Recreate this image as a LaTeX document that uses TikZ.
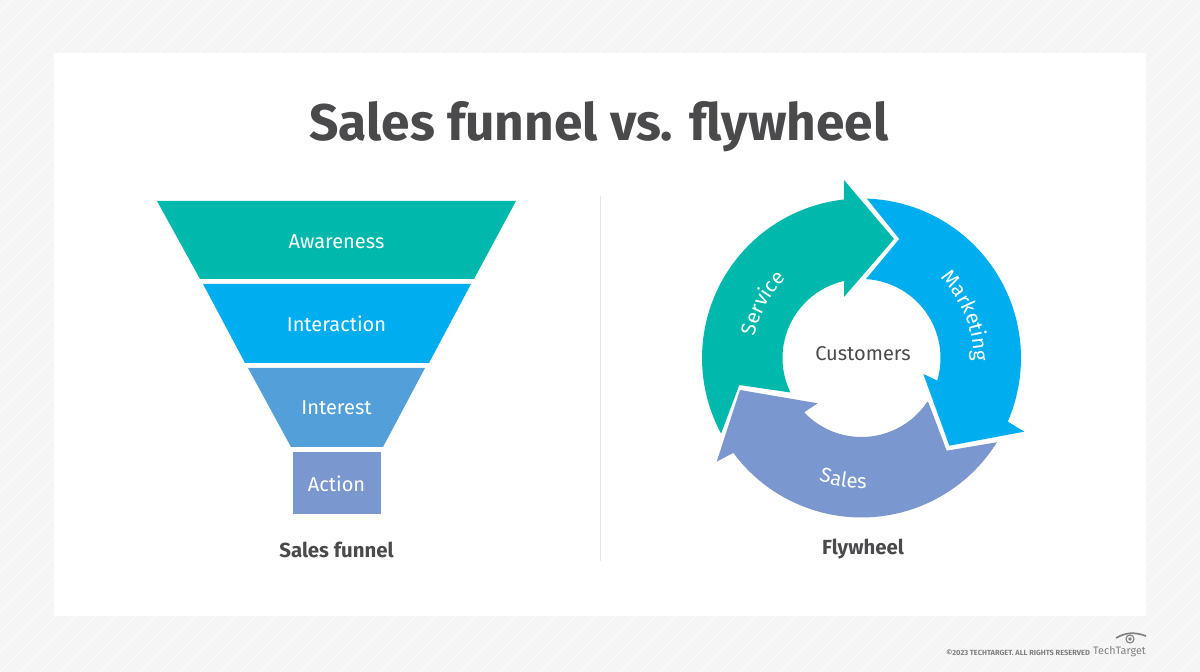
\documentclass[tikz,border=0pt]{standalone}
\usepackage{fontspec}
\setmainfont{Fira Sans}
\usetikzlibrary{decorations.text}

\definecolor{inkgrey}{HTML}{4A4A4C}
\definecolor{teal}{HTML}{00B9AC}
\definecolor{skyblue}{HTML}{00AEEF}
\definecolor{midblue}{HTML}{529FD9}
\definecolor{periwinkle}{HTML}{7A97CF}
\definecolor{paper}{HTML}{F5F5F5}

\tikzset{
  funneltext/.style={text=white, font=\fontsize{28.5}{32}\selectfont},
  caption/.style={text=inkgrey, font=\bfseries\fontsize{29}{34}\selectfont},
  curved/.style={decoration={text along path, text align=center, text={|\fontsize{29}{34}\selectfont\color{white}|#1}}, postaction={decorate}}
}

\begin{document}
\begin{tikzpicture}[x=0.05cm, y=0.05cm]
  \def\router{7.975cm}
  \def\rinner{3.95cm}
  \fill [paper] (0, 0) rectangle (1200, 672);
  \useasboundingbox (0, 0) rectangle (1200, 672);
  \begin{scope}
    \clip (0, 0) rectangle (1200, 672);
    \foreach \i in {0,...,94} {
      \draw [white, line width=0.9pt] (12+20*\i, 672) -- (12+20*\i-672, 0);
    }
  \end{scope}
  \fill [white] (54, 56) rectangle (1146, 619);

  \node (title) [text=inkgrey, font=\bfseries\fontsize{73.2}{82}\selectfont] at (599, 545.5) {Sales funnel vs. flywheel};

  % funnel
  \fill [teal] (157, 471) -- (516, 471) -- (474, 393) -- (200, 393) -- cycle;
  \fill [skyblue] (203, 388) -- (471, 388) -- (429, 309) -- (245, 309) -- cycle;
  \fill [midblue] (248, 304) -- (425, 304) -- (383, 225) -- (291, 225) -- cycle;
  \fill [periwinkle] (293, 220) rectangle (381, 158);
  \node (awareness) [funneltext] at (336.5, 430.5) {Awareness};
  \node (interaction) [funneltext] at (336.5, 348.5) {Interaction};
  \node (interest) [funneltext] at (336.5, 264) {Interest};
  \node (action) [funneltext] at (336.5, 188.5) {Action};
  \node (funnelcaption) [caption] at (336.5, 122.5) {Sales funnel};

  \draw [black!10, line width=1.4pt] (600, 476) -- (600, 111);

  % flywheel
  \coordinate (hub) at (861.5, 314);
  \fill [teal] (hub) ++(208.3:\router) arc[start angle=208.3, end angle=96.35, radius=\router]
    -- (844, 492) -- (894, 433) -- (844, 375) -- ([shift={(102.8:\rinner)}]hub)
    arc[start angle=102.8, end angle=205.9, radius=\rinner] -- (739.3, 287) -- cycle;
  \fill [skyblue] (hub) ++(88.1:\router) arc[start angle=88.1, end angle=-23.5, radius=\router]
    -- (1024.3, 240.3) -- (949.3, 226.3) -- (923.3, 298) -- (937.7, 291.3) -- ([shift={(-16.6:\rinner)}]hub)
    arc[start angle=-16.6, end angle=86.8, radius=\rinner] -- (899.3, 433) -- cycle;
  \fill [periwinkle] (hub) ++(216.5:\router) arc[start angle=216.5, end angle=328.1, radius=\router]
    -- (946.7, 221.3) -- (928.3, 269.7) -- ([shift={(-33.6:\rinner)}]hub)
    arc[start angle=-33.6, end angle=-136.6, radius=\rinner] -- (817.7, 268.7) -- (740, 282) -- (716.7, 210.3) -- cycle;

  \path [curved=Service] (hub) ++(196:5.45cm) arc[start angle=196, end angle=106, radius=5.45cm];
  \path [curved=Marketing] (hub) ++(72:5.6cm) arc[start angle=72, end angle=-28, radius=5.6cm];
  \path [curved=Sales] (hub) ++(225:6.5cm) arc[start angle=225, end angle=298, radius=6.5cm];

  \node (customers) [text=inkgrey, font=\fontsize{28.5}{32}\selectfont] at (863, 318) {Customers};
  \node (wheelcaption) [caption] at (863, 122.5) {Flywheel};

  % footer
  \node (rights) [text=black!50, font=\bfseries\fontsize{10.6}{12}\selectfont, anchor=east, inner sep=0pt] at (1090, 19.5) {\textcopyright 2023 TECHTARGET. ALL RIGHTS RESERVED};
  \node (brand) [text=black!50, font=\fontsize{15.4}{18}\selectfont, anchor=east, inner sep=0pt] at (1146, 20.5) {TechTarget};
  \coordinate (eye) at (1130, 33);
  \draw [black!50, line width=1.6pt] (eye) circle (0.2cm);
  \fill [black!50] (eye) circle (0.09cm);
  \draw [black!50, line width=2.4pt] (1116, 34) to[out=30, in=160] (1146, 36);
\end{tikzpicture}
\end{document}
